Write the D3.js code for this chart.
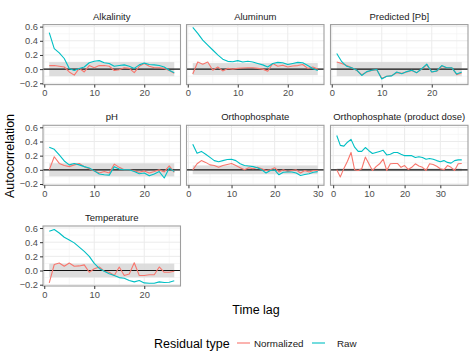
<!DOCTYPE html>
<html>
<head>
<meta charset="utf-8">
<script src="https://cdn.jsdelivr.net/npm/d3@7"></script>
<style>
  body { margin: 0; background: #fff; }
  svg { display: block; font-family: "Liberation Sans", Arial, sans-serif; }
</style>
</head>
<body>
<svg width="474" height="364"></svg>
<script>
var width = 474;
var height = 364;

// panel titles, in facet order
var panelTitles = ["Alkalinity", "Aluminum", "Predicted [Pb]", "pH", "Orthophosphate",
    "Orthophosphate (product dose)", "Temperature"];

// autocorrelation by lag (lag 1, 2, ...)
var alkalinityNorm = [0.05, 0.05, 0.04, 0.03, -0.04, -0.085, 0.01, -0.04, 0.05, 0.02, 0.05, 0.05, 0.04,
    -0.02, -0.01, 0.02, 0.01, -0.05, 0.04, 0.08, 0.04, 0.02, 0.02, 0.01, -0.02, -0.06];
var alkalinityRaw = [0.515, 0.29, 0.23, 0.15, 0.01, -0.02, 0.01, 0.03, 0.09, 0.11, 0.12, 0.09, 0.08,
    0.04, 0.05, 0.06, 0.04, 0.01, 0.06, 0.085, 0.065, 0.06, 0.05, 0.03, -0.015, -0.05];

var aluminumNorm = [-0.07, 0.1, 0.07, 0.1, -0.015, 0.03, -0.025, 0.01, 0, 0.01, 0.015, 0.02, 0.02,
    0.01, 0, -0.03, 0.08, 0.04, 0.055, 0.03, 0.045, 0.05, 0.065, 0.01, 0.03, 0];
var aluminumRaw = [0.59, 0.505, 0.41, 0.34, 0.27, 0.2, 0.14, 0.11, 0.105, 0.12, 0.1, 0.11, 0.1,
    0.08, 0.06, 0.03, 0.08, 0.095, 0.09, 0.065, 0.08, 0.095, 0.09, 0.05, 0.01, -0.02];

var leadNorm = [0.1, 0.08, 0.05, 0.02, -0.02, -0.08, -0.04, -0.02, -0.01, -0.13, -0.1, -0.09, -0.05,
    -0.06, -0.04, -0.02, -0.05, 0, 0.06, -0.04, -0.03, 0.04, 0.02, 0.02, -0.08, -0.05];
var leadRaw = [0.22, 0.105, 0.04, 0.02, -0.015, -0.09, -0.035, -0.015, -0.005, -0.14, -0.1, -0.095, -0.04,
    -0.065, -0.035, -0.015, -0.05, 0.005, 0.07, -0.04, -0.025, 0.05, 0.02, 0.02, -0.07, -0.04];

var phNorm = [0, 0.185, 0.09, 0.06, 0.045, 0.07, 0.09, 0.045, 0.015, -0.015, -0.045, -0.025, -0.045,
    0.08, 0.035, 0, 0, -0.015, -0.035, -0.015, -0.045, -0.025, 0, -0.03, 0.055, -0.035];
var phRaw = [0.32, 0.29, 0.21, 0.125, 0.07, 0.09, 0.07, 0.045, 0.025, -0.015, -0.06, -0.07, -0.075,
    0.045, 0.01, 0, 0, -0.025, -0.055, -0.045, -0.085, -0.06, -0.025, -0.115, 0.025, -0.025];

var orthoNorm = [0, 0.085, 0.13, 0.105, 0.07, 0.06, 0.035, 0.06, 0.075, 0.09, 0.06, 0.03, 0, 0.03, 0.015,
    0.035, 0.015, -0.01, 0, 0.03, -0.03, 0, -0.025, -0.01, 0, -0.045, -0.01, -0.03, -0.01, -0.01];
var orthoRaw = [0.36, 0.235, 0.26, 0.22, 0.175, 0.13, 0.115, 0.13, 0.145, 0.15, 0.13, 0.085, 0.06, 0.055,
    0.045, 0.03, 0, -0.045, -0.01, 0, -0.07, -0.035, -0.03, -0.03, -0.045, -0.08, -0.065, -0.055, -0.035, -0.025];

var doseNorm = [0, -0.1, 0.02, 0.12, 0.245, 0, -0.01, 0.015, 0.18, 0.085, -0.01, 0.045, 0.085, 0.15, -0.01,
    0.085, 0.09, 0.09, 0.035, 0.06, 0.005, 0.035, 0.085, 0.055, 0.035, -0.01, 0.085, 0.075, 0.05, 0.015,
    0, 0.06, 0.035, -0.01, 0.085, 0.09];
var doseRaw = [0.485, 0.345, 0.335, 0.39, 0.43, 0.32, 0.26, 0.26, 0.315, 0.27, 0.23, 0.245, 0.26, 0.275,
    0.21, 0.22, 0.245, 0.245, 0.22, 0.2, 0.2, 0.2, 0.175, 0.185, 0.175, 0.15, 0.16, 0.15, 0.13, 0.115,
    0.13, 0.105, 0.095, 0.13, 0.14, 0.14];

var temperatureNorm = [-0.175, 0.085, 0.105, 0.06, 0.105, 0.06, 0.065, 0.08, -0.025, 0.025, 0.05, -0.01,
    -0.025, -0.07, 0.05, -0.07, -0.05, 0.11, -0.07, -0.07, -0.06, -0.06, 0.05, -0.025, -0.025, -0.01];
var temperatureRaw = [0.555, 0.58, 0.53, 0.47, 0.43, 0.39, 0.33, 0.27, 0.2, 0.1, 0.03, -0.01, -0.045,
    -0.07, -0.1, -0.11, -0.14, -0.16, -0.14, -0.175, -0.18, -0.18, -0.16, -0.17, -0.165, -0.145];

var normalizedSeries = [alkalinityNorm, aluminumNorm, leadNorm, phNorm, orthoNorm, doseNorm, temperatureNorm];
var rawSeries = [alkalinityRaw, aluminumRaw, leadRaw, phRaw, orthoRaw, doseRaw, temperatureRaw];

// half width of the grey confidence band in each panel
var bandHalf = [0.1, 0.085, 0.1, 0.093, 0.062, 0.02, 0.097];

var yTicks = [-0.2, 0, 0.2, 0.4, 0.6];
var xTicks = [0, 10, 20, 30];
var legendLabels = ["Normalized", "Raw"];
var colors = ["#F8766D", "#00BFC4"];

// layout
var panelLefts = [43, 186.5, 330.5];
var panelTops = [24.6, 125.3, 226];
var panelW = 137.5;
var panelH = 60;

var chart = d3.select("svg");

// shared y scale with ggplot style 5% expansion
var allValues = d3.merge(normalizedSeries.concat(rawSeries));
var yExt = d3.extent(allValues);
var yPad = (yExt[1] - yExt[0]) * 0.05;

for (var i = 0; i < panelTitles.length; i++) {
    var col = i % 3;
    var row = Math.floor(i / 3);
    var n = rawSeries[i].length;
    var xPad = (n - 1) * 0.05;

    var x = d3.scaleLinear().domain([1 - xPad, n + xPad]).range([0, panelW]);
    var y = d3.scaleLinear().domain([yExt[0] - yPad, yExt[1] + yPad]).range([panelH, 0]);

    var g = chart.append("g")
        .attr("transform", "translate(" + panelLefts[col] + "," + panelTops[row] + ")");

    g.append("rect")
        .attr("width", panelW).attr("height", panelH)
        .attr("fill", "#fff");

    // minor grid
    var xMinor = xTicks.map(function (t) { return t + 5; }).concat([-5]).filter(function (t) {
        return t >= x.domain()[0] && t <= x.domain()[1];
    });
    var yMinor = [-0.1, 0.1, 0.3, 0.5];
    g.selectAll(".xminor").data(xMinor).enter().append("line")
        .attr("x1", x).attr("x2", x).attr("y1", 0).attr("y2", panelH)
        .attr("stroke", "#F2F2F2").attr("stroke-width", 0.6);
    g.selectAll(".yminor").data(yMinor).enter().append("line")
        .attr("x1", 0).attr("x2", panelW).attr("y1", y).attr("y2", y)
        .attr("stroke", "#F2F2F2").attr("stroke-width", 0.6);

    // major grid
    var xMajor = xTicks.filter(function (t) { return t >= x.domain()[0] && t <= x.domain()[1]; });
    g.selectAll(".xmajor").data(xMajor).enter().append("line")
        .attr("x1", x).attr("x2", x).attr("y1", 0).attr("y2", panelH)
        .attr("stroke", "#EBEBEB").attr("stroke-width", 1);
    g.selectAll(".ymajor").data(yTicks).enter().append("line")
        .attr("x1", 0).attr("x2", panelW).attr("y1", y).attr("y2", y)
        .attr("stroke", "#EBEBEB").attr("stroke-width", 1);

    // confidence band
    g.append("rect")
        .attr("x", x(1)).attr("width", x(n) - x(1))
        .attr("y", y(bandHalf[i])).attr("height", y(-bandHalf[i]) - y(bandHalf[i]))
        .attr("fill", "#D9D9D9").attr("opacity", 0.9);

    // zero line
    g.append("line")
        .attr("x1", 0).attr("x2", panelW).attr("y1", y(0)).attr("y2", y(0))
        .attr("stroke", "#111").attr("stroke-width", 1.2);

    var line = d3.line()
        .x(function (d, k) { return x(k + 1); })
        .y(function (d) { return y(d); });

    [normalizedSeries[i], rawSeries[i]].forEach(function (s, k) {
        g.append("path")
            .datum(s)
            .attr("d", line)
            .attr("fill", "none")
            .attr("stroke", colors[k])
            .attr("stroke-width", 1.1)
            .attr("stroke-linejoin", "round");
    });

    // panel border
    g.append("rect")
        .attr("width", panelW).attr("height", panelH)
        .attr("fill", "none").attr("stroke", "#9E9E9E").attr("stroke-width", 1.1);

    // strip title
    g.append("text")
        .attr("x", panelW / 2).attr("y", -5)
        .attr("text-anchor", "middle")
        .attr("font-size", "9.5px")
        .attr("fill", "#1A1A1A")
        .text(panelTitles[i]);

    // x axis
    var xAxis = d3.axisBottom(x).tickValues(xMajor).tickFormat(d3.format("d")).tickSize(3).tickPadding(2);
    var xg = g.append("g").attr("transform", "translate(0," + panelH + ")").call(xAxis);
    xg.select(".domain").remove();
    xg.selectAll("line").attr("stroke", "#333").attr("stroke-width", 1);
    xg.selectAll("text").attr("font-size", "9.3px").attr("fill", "#4D4D4D")
        .attr("font-family", "Liberation Sans, Arial, sans-serif");

    // y axis on first column only
    if (col === 0) {
        var yAxis = d3.axisLeft(y).tickValues(yTicks).tickFormat(d3.format(".1f")).tickSize(3).tickPadding(2);
        var yg = g.append("g").call(yAxis);
        yg.select(".domain").remove();
        yg.selectAll("line").attr("stroke", "#333").attr("stroke-width", 1);
        yg.selectAll("text").attr("font-size", "9.3px").attr("fill", "#4D4D4D")
            .attr("font-family", "Liberation Sans, Arial, sans-serif");
    }
}

// axis titles
chart.append("text")
    .attr("x", 256).attr("y", 314)
    .attr("text-anchor", "middle")
    .attr("font-size", "12.5px")
    .text("Time lag");

chart.append("text")
    .attr("transform", "translate(14,156) rotate(-90)")
    .attr("text-anchor", "middle")
    .attr("font-size", "12.5px")
    .text("Autocorrelation");

// legend
var legend = chart.append("g");
legend.append("text")
    .attr("x", 154).attr("y", 347.5)
    .attr("font-size", "12.5px")
    .text("Residual type");

var keyX = [237, 312];
var labelX = [254, 337];
legendLabels.forEach(function (lab, k) {
    legend.append("line")
        .attr("x1", keyX[k]).attr("x2", keyX[k] + 13)
        .attr("y1", 343).attr("y2", 343)
        .attr("stroke", colors[k]).attr("stroke-width", 1.1);
    legend.append("text")
        .attr("x", labelX[k]).attr("y", 346.5)
        .attr("font-size", "9.8px")
        .attr("fill", "#1A1A1A")
        .text(lab);
});
</script>
</body>
</html>
